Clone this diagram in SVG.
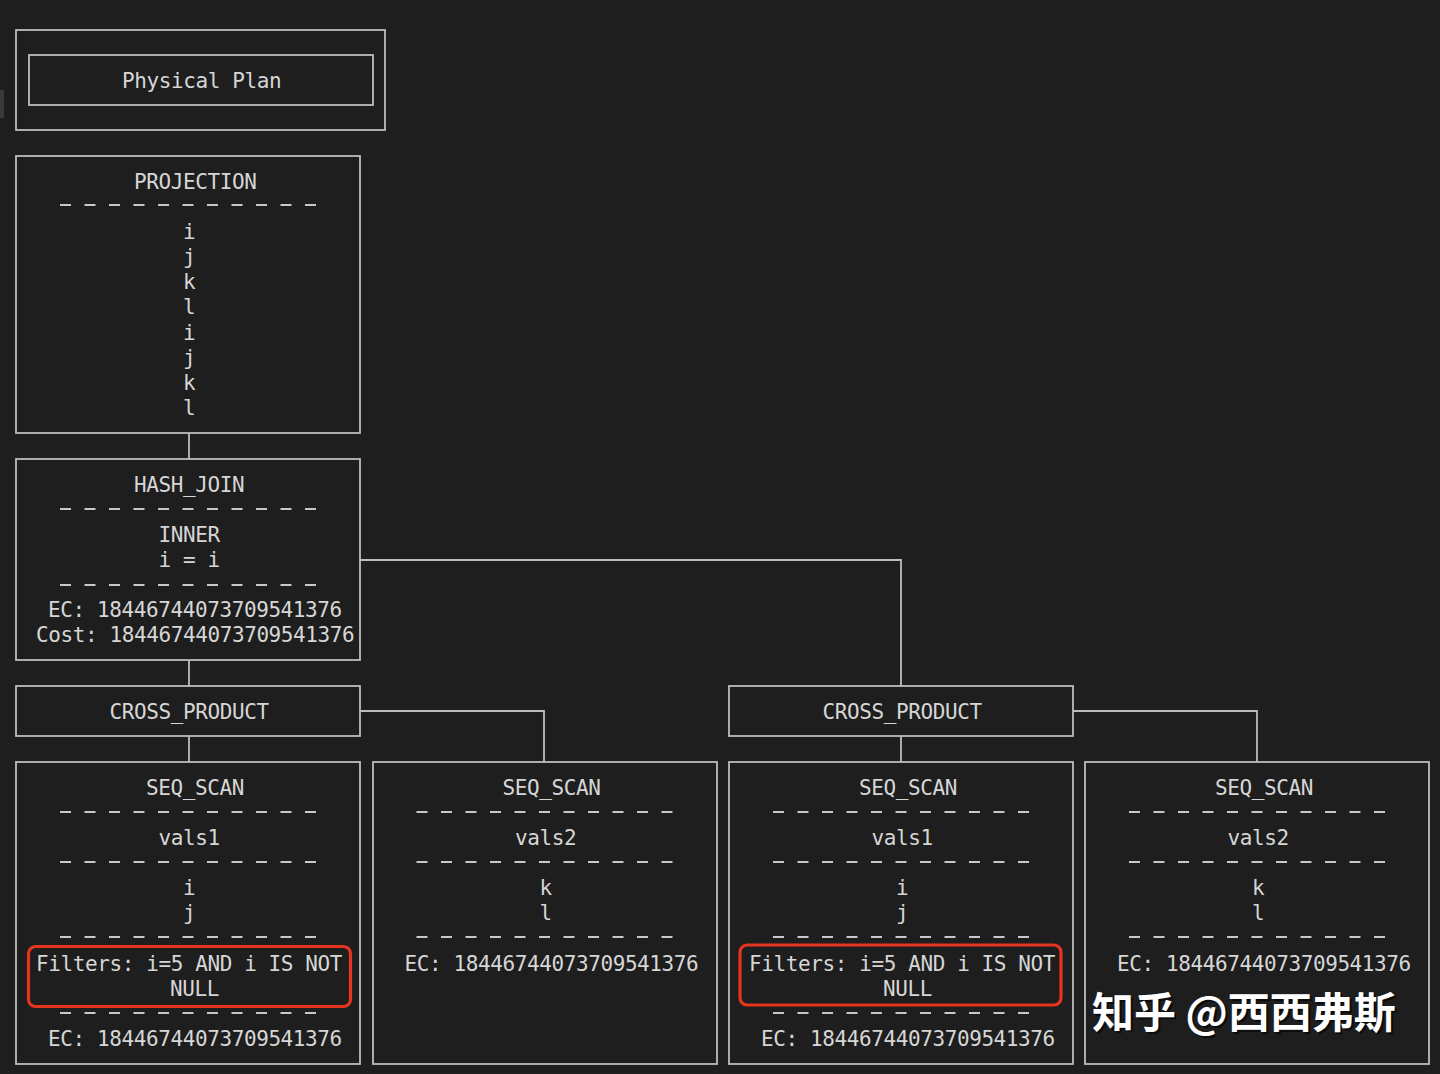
<svg xmlns="http://www.w3.org/2000/svg" width="1440" height="1074" viewBox="0 0 1440 1074">
<style>
.bg{fill:#1e1e1e}
.box{fill:none;stroke:#bcbcbc;stroke-width:1.8}
.con{fill:none;stroke:#bcbcbc;stroke-width:1.8}
.sep{stroke:#c8c8c8;stroke-width:2;stroke-dasharray:11 13.5}
.t{font-family:"DejaVu Sans Mono","Liberation Mono",monospace;font-size:21px;letter-spacing:-0.4px;fill:#d6d6d6}
.hl{fill:none;stroke:#e5341f;stroke-width:3.2}
.wm{font-family:"Noto Sans CJK SC","Noto Sans",sans-serif;font-size:42px;font-weight:bold;fill:#ffffff}
.wms{font-family:"Noto Sans CJK SC","Noto Sans",sans-serif;font-size:42px;font-weight:bold;fill:#000000;opacity:0.6}
</style>
<rect class="bg" x="0" y="0" width="1440" height="1074"/>
<rect x="0" y="90" width="4" height="28" fill="#3a3a3a"/>

<g id="connectors">
<path class="con" d="M189 433V459"/>
<path class="con" d="M189 660V686"/>
<path class="con" d="M360 560H901V686"/>
<path class="con" d="M189 736V762"/>
<path class="con" d="M360 711H544V762"/>
<path class="con" d="M901 736V762"/>
<path class="con" d="M1073 711H1257V762"/>
</g>

<g id="physical-plan">
<rect class="box" x="16" y="30" width="369" height="100"/>
<rect class="box" x="29" y="55" width="344" height="50"/>
<text class="t" x="122" y="88">Physical Plan</text>
</g>

<g id="projection">
<rect class="box" x="16" y="156" width="344" height="277"/>
<text class="t" x="134" y="189">PROJECTION</text>
<line class="sep" x1="60" y1="205" x2="317" y2="205"/>
<text class="t" x="183" y="239">i</text>
<text class="t" x="183" y="264">j</text>
<text class="t" x="183" y="289">k</text>
<text class="t" x="183" y="314">l</text>
<text class="t" x="183" y="340">i</text>
<text class="t" x="183" y="365">j</text>
<text class="t" x="183" y="390">k</text>
<text class="t" x="183" y="415">l</text>
</g>

<g id="hash-join">
<rect class="box" x="16" y="459" width="344" height="201"/>
<text class="t" x="134" y="492">HASH_JOIN</text>
<line class="sep" x1="60" y1="509" x2="317" y2="509"/>
<text class="t" x="158.5" y="542">INNER</text>
<text class="t" x="158.5" y="567">i = i</text>
<line class="sep" x1="60" y1="585" x2="317" y2="585"/>
<text class="t" x="48" y="617">EC: 18446744073709541376</text>
<text class="t" x="36" y="642">Cost: 18446744073709541376</text>
</g>

<g id="cross-product-1">
<rect class="box" x="16" y="686" width="344" height="50"/>
<text class="t" x="109.5" y="719">CROSS_PRODUCT</text>
</g>

<g id="cross-product-2">
<rect class="box" x="729" y="686" width="344" height="50"/>
<text class="t" x="822.5" y="719">CROSS_PRODUCT</text>
</g>

<g id="seq-scan-1">
<rect class="box" x="16" y="762" width="344" height="302"/>
<text class="t" x="146" y="795">SEQ_SCAN</text>
<line class="sep" x1="60" y1="812" x2="317" y2="812"/>
<text class="t" x="158.5" y="845">vals1</text>
<line class="sep" x1="60" y1="862" x2="317" y2="862"/>
<text class="t" x="183" y="895">i</text>
<text class="t" x="183" y="920">j</text>
<line class="sep" x1="60" y1="937" x2="317" y2="937"/>
<text class="t" x="36" y="971">Filters: i=5 AND i IS NOT</text>
<text class="t" x="170" y="996">NULL</text>
<line class="sep" x1="60" y1="1013" x2="317" y2="1013"/>
<text class="t" x="48" y="1046">EC: 18446744073709541376</text>
<rect class="hl" x="28.5" y="946.5" width="322" height="60" rx="7"/>
</g>

<g id="seq-scan-2">
<rect class="box" x="373" y="762" width="344" height="302"/>
<text class="t" x="502.5" y="795">SEQ_SCAN</text>
<line class="sep" x1="416.5" y1="812" x2="673.5" y2="812"/>
<text class="t" x="515" y="845">vals2</text>
<line class="sep" x1="416.5" y1="862" x2="673.5" y2="862"/>
<text class="t" x="539.5" y="895">k</text>
<text class="t" x="539.5" y="920">l</text>
<line class="sep" x1="416.5" y1="937" x2="673.5" y2="937"/>
<text class="t" x="404.5" y="971">EC: 18446744073709541376</text>
</g>

<g id="seq-scan-3">
<rect class="box" x="729" y="762" width="344" height="302"/>
<text class="t" x="859" y="795">SEQ_SCAN</text>
<line class="sep" x1="773" y1="812" x2="1030" y2="812"/>
<text class="t" x="871.5" y="845">vals1</text>
<line class="sep" x1="773" y1="862" x2="1030" y2="862"/>
<text class="t" x="896" y="895">i</text>
<text class="t" x="896" y="920">j</text>
<line class="sep" x1="773" y1="937" x2="1030" y2="937"/>
<text class="t" x="749" y="971">Filters: i=5 AND i IS NOT</text>
<text class="t" x="883" y="996">NULL</text>
<line class="sep" x1="773" y1="1013" x2="1030" y2="1013"/>
<text class="t" x="761" y="1046">EC: 18446744073709541376</text>
<rect class="hl" x="740" y="945" width="321" height="60" rx="7"/>
</g>

<g id="seq-scan-4">
<rect class="box" x="1085" y="762" width="344" height="302"/>
<text class="t" x="1215" y="795">SEQ_SCAN</text>
<line class="sep" x1="1129" y1="812" x2="1386" y2="812"/>
<text class="t" x="1227.5" y="845">vals2</text>
<line class="sep" x1="1129" y1="862" x2="1386" y2="862"/>
<text class="t" x="1252" y="895">k</text>
<text class="t" x="1252" y="920">l</text>
<line class="sep" x1="1129" y1="937" x2="1386" y2="937"/>
<text class="t" x="1117" y="971">EC: 18446744073709541376</text>
</g>

<g id="watermark">
<text class="wms" x="1094" y="1030">知乎 @西西弗斯</text>
<text class="wm" x="1092" y="1028">知乎 @西西弗斯</text>
</g>
</svg>
